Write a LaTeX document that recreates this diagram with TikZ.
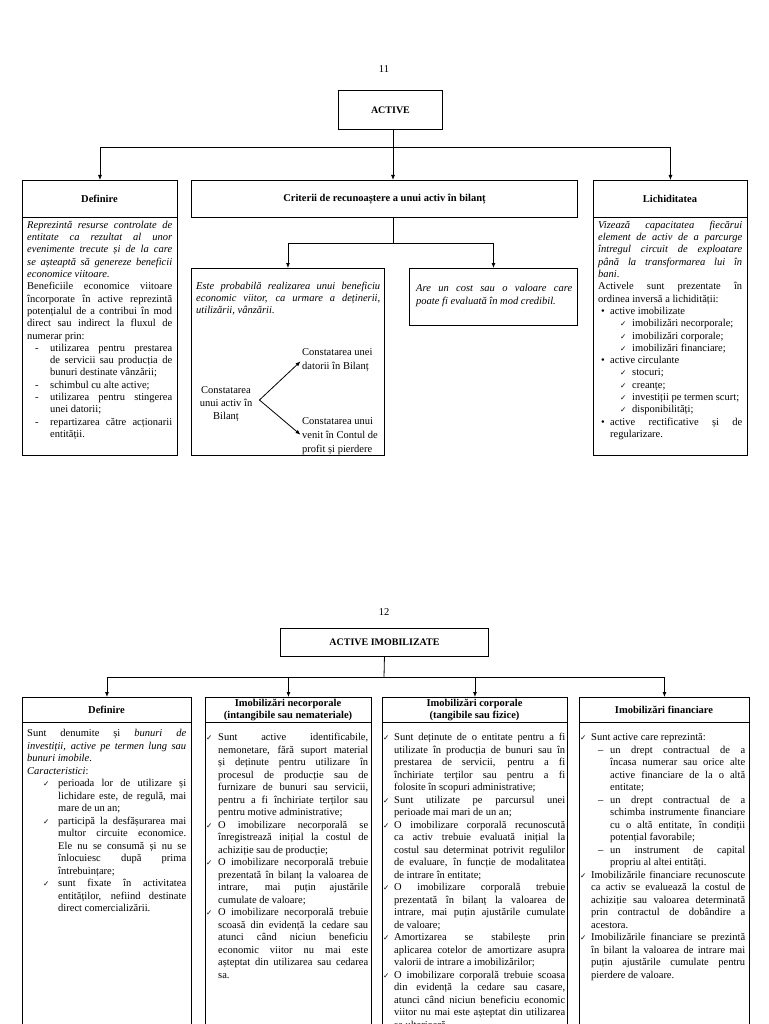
\documentclass[tikz,border=0pt]{standalone}
\usepackage{fontspec}
\setmainfont{Liberation Serif}
\newfontfamily\symf{DejaVu Sans}
\usetikzlibrary{arrows.meta}
\tolerance=10000
\hbadness=10000
\hfuzz=20pt
\newcommand\fsT{\fontsize{10.5}{12.3}\selectfont}
\newcommand\fsB{\fontsize{10.5}{12.5}\selectfont}
\newcommand\ckm{{\symf\fontsize{7.5}{7.5}\selectfont ✓}}
\newcommand\itm[4]{\par\hangindent=#1\hangafter=0\noindent\llap{\makebox[#2][l]{#3}}\strut#4}
\tikzset{
  bx/.style n args={2}{draw, line width=0.9pt, anchor=north west, inner sep=0pt, minimum width=#1, minimum height=#2},
  body/.style={anchor=north west, inner sep=0pt, text width=#1, align=justify},
  hd/.style={font=\fsB\bfseries, align=center, inner sep=0pt},
  arr/.style={-{Latex[length=5pt,width=4pt]}, line width=0.8pt},
  ln/.style={line width=0.8pt}
}
\begin{document}
\begin{tikzpicture}[x=1pt,y=-1pt]
\useasboundingbox (0,0) rectangle (768,1024);
\clip (0,0) rectangle (768,1024);
\fill[white] (0,0) rectangle (768,1024);

% ---------------- page 11 ----------------
\node[font=\fsB, inner sep=0pt] (p11) at (384,69) {11};
\node[bx={104pt}{39pt}, font=\fontsize{10}{12}\selectfont\bfseries] (act) at (338,90) {ACTIVE};

\node[bx={155pt}{275pt}] (defA) at (22,180) {};
\draw[ln] ([yshift=-37pt]defA.north west) -- ([yshift=-37pt]defA.north east);
\node[hd] (defAh) at (99.5,198.5) {Definire};

\node[bx={386pt}{37pt}, font=\fsB\bfseries] (crit) at (191,180) {Criterii de recunoaștere a unui activ în bilanț};

\node[bx={154pt}{275pt}] (lichA) at (593,180) {};
\draw[ln] ([yshift=-37pt]lichA.north west) -- ([yshift=-37pt]lichA.north east);
\node[hd] (lichAh) at (670,198.5) {Lichiditatea};

\node[bx={193pt}{187pt}] (inL) at (191,268) {};
\node[bx={168pt}{57pt}] (inR) at (409,268) {};

\coordinate (hubA) at (393,147);
\draw[ln] (act.south -| hubA) -- (hubA);
\draw[arr] (hubA) -- (hubA |- crit.north);
\draw[ln] (hubA -| defA.north) -- (hubA -| lichA.north);
\draw[arr] (hubA -| defA.north) -- (defA.north);
\draw[arr] (hubA -| lichA.north) -- (lichA.north);

\coordinate (hubB) at (393,243);
\draw[ln] (crit.south -| hubB) -- (hubB);
\draw[ln] (hubB -| inL.north) -- (hubB -| inR.north);
\draw[arr] (hubB -| inL.north) -- (inL.north);
\draw[arr] (hubB -| inR.north) -- (inR.north);

\node[body=145pt, font=\fsT] (defAt) at (27,219.5) {\strut\textit{Reprezintă resurse controlate de\linebreak entitate ca rezultat al unor\linebreak evenimente trecute și de la care\linebreak se așteaptă să genereze beneficii\linebreak economice viitoare}.\par
Beneficiile economice viitoare\linebreak încorporate în active reprezintă\linebreak potențialul de a contribui în mod\linebreak direct sau indirect la fluxul de\linebreak numerar prin:
\itm{23pt}{15pt}{-}{utilizarea pentru prestarea\linebreak de servicii sau producția de\linebreak bunuri destinate vânzării;}
\itm{23pt}{15pt}{-}{schimbul cu alte active;}
\itm{23pt}{15pt}{-}{utilizarea pentru stingerea\linebreak unei datorii;}
\itm{23pt}{15pt}{-}{repartizarea către acționarii\linebreak entității.}\par};

\node[body=144pt, font=\fsT] (lichAt) at (598,219.5) {\strut\textit{Vizează capacitatea fiecărui\linebreak element de activ de a parcurge\linebreak întregul circuit de exploatare\linebreak până la transformarea lui în\linebreak bani}.\par
Activele sunt prezentate în\linebreak ordinea inversă a lichidității:
\itm{12pt}{9pt}{•}{active imobilizate}
\itm{34pt}{12pt}{\ckm}{imobilizări necorporale;}
\itm{34pt}{12pt}{\ckm}{imobilizări corporale;}
\itm{34pt}{12pt}{\ckm}{imobilizări financiare;}
\itm{12pt}{9pt}{•}{active circulante}
\itm{34pt}{12pt}{\ckm}{stocuri;}
\itm{34pt}{12pt}{\ckm}{creanțe;}
\itm{34pt}{12pt}{\ckm}{investiții pe termen scurt;}
\itm{34pt}{12pt}{\ckm}{disponibilități;}
\itm{12pt}{9pt}{•}{active rectificative și de\linebreak regularizare.}\par};

\node[body=184pt, font=\fsT\itshape] (inLt) at (196,280.5) {\strut Este probabilă realizarea unui beneficiu\linebreak economic viitor, ca urmare a deținerii,\linebreak utilizării, vânzării.\par};
\node[body=156pt, font=\fsT\itshape] (inRt) at (416,283) {\strut Are un cost sau o valoare care\linebreak poate fi evaluată în mod credibil.\par};

\node[align=center, font=\fontsize{10.5}{13}\selectfont, inner sep=0pt] (cA) at (226,404) {Constatarea\\unui activ în\\Bilanț};
\node[align=left, font=\fontsize{10.5}{13.5}\selectfont, inner sep=0pt, anchor=west] (cD) at (302,360) {Constatarea unei\\datorii în Bilanț};
\node[align=left, font=\fontsize{10.5}{14}\selectfont, inner sep=0pt, anchor=west] (cV) at (302,436) {Constatarea unui\\venit în Contul de\\profit și pierdere};
\coordinate (cv) at ([xshift=7pt,yshift=4pt]cA.east);
\draw[arr, shorten >=2pt] (cv) -- (cD.west);
\draw[arr, shorten >=2pt] (cv) -- (cV.west);

% ---------------- page 12 ----------------
\node[font=\fsB, inner sep=0pt] (p12) at (384,612) {12};
\node[bx={208pt}{28pt}, font=\fontsize{10}{12}\selectfont\bfseries] (aimob) at (280,628) {ACTIVE IMOBILIZATE};

\node[bx={169pt}{343pt}] (defB) at (22,697) {};
\node[bx={166pt}{343pt}] (necB) at (205,697) {};
\node[bx={185pt}{343pt}] (corB) at (382,697) {};
\node[bx={170pt}{343pt}] (finB) at (579,697) {};
\foreach \b in {defB,necB,corB,finB}
  \draw[ln] ([yshift=-25pt]\b.north west) -- ([yshift=-25pt]\b.north east);

\coordinate (hubC) at (384,677);
\draw[ln] (aimob.south) -- (hubC);
\draw[ln] (hubC -| defB.north) -- (hubC -| finB.north);
\draw[arr] (hubC -| defB.north) -- (defB.north);
\draw[arr] (hubC -| necB.north) -- (necB.north);
\draw[arr] (hubC -| corB.north) -- (corB.north);
\draw[arr] (hubC -| finB.north) -- (finB.north);

\node[hd] (defBh) at (106.5,709.5) {Definire};
\node[hd, font=\fontsize{10.5}{12}\selectfont\bfseries] (necBh) at (288,710) {Imobilizări necorporale\\(intangibile sau nemateriale)};
\node[hd, font=\fontsize{10.5}{12}\selectfont\bfseries] (corBh) at (474.5,710) {Imobilizări corporale\\(tangibile sau fizice)};
\node[hd] (finBh) at (664,709.5) {Imobilizări financiare};

\node[body=159pt, font=\fsB] (defBt) at (27,728) {\strut Sunt denumite și \textit{bunuri de\linebreak investiții, active pe termen lung sau\linebreak bunuri imobile}.\par
\textit{Caracteristici}:
\itm{31pt}{15pt}{\ckm}{perioada lor de utilizare și\linebreak lichidare este, de regulă, mai\linebreak mare de un an;}
\itm{31pt}{15pt}{\ckm}{participă la desfășurarea mai\linebreak multor circuite economice.\linebreak Ele nu se consumă și nu se\linebreak înlocuiesc după prima\linebreak întrebuințare;}
\itm{31pt}{15pt}{\ckm}{sunt fixate în activitatea\linebreak entităților, nefiind destinate\linebreak direct comercializării.}\par};

\node[body=162pt, font=\fsB] (necBt) at (206,728) {%
\itm{12pt}{12pt}{\ckm}{Sunt active identificabile,\linebreak nemonetare, fără suport material\linebreak și deținute pentru utilizare în\linebreak procesul de producție sau de\linebreak furnizare de bunuri sau servicii,\linebreak pentru a fi închiriate terților sau\linebreak pentru motive administrative;}
\itm{12pt}{12pt}{\ckm}{O imobilizare necorporală se\linebreak înregistrează inițial la costul de\linebreak achiziție sau de producție;}
\itm{12pt}{12pt}{\ckm}{O imobilizare necorporală trebuie\linebreak prezentată în bilanț la valoarea de\linebreak intrare, mai puțin ajustările\linebreak cumulate de valoare;}
\itm{12pt}{12pt}{\ckm}{O imobilizare necorporală trebuie\linebreak scoasă din evidență la cedare sau\linebreak atunci când niciun beneficiu\linebreak economic viitor nu mai este\linebreak așteptat din utilizarea sau cedarea\linebreak sa.}\par};

\node[body=182pt, font=\fsB] (corBt) at (383,728) {%
\itm{11pt}{11pt}{\ckm}{Sunt deținute de o entitate pentru a fi\linebreak utilizate în producția de bunuri sau în\linebreak prestarea de servicii, pentru a fi\linebreak închiriate terților sau pentru a fi\linebreak folosite în scopuri administrative;}
\itm{11pt}{11pt}{\ckm}{Sunt utilizate pe parcursul unei\linebreak perioade mai mari de un an;}
\itm{11pt}{11pt}{\ckm}{O imobilizare corporală recunoscută\linebreak ca activ trebuie evaluată inițial la\linebreak costul sau determinat potrivit regulilor\linebreak de evaluare, în funcție de modalitatea\linebreak de intrare în entitate;}
\itm{11pt}{11pt}{\ckm}{O imobilizare corporală trebuie\linebreak prezentată în bilanț la valoarea de\linebreak intrare, mai puțin ajustările cumulate\linebreak de valoare;}
\itm{11pt}{11pt}{\ckm}{Amortizarea se stabilește prin\linebreak aplicarea cotelor de amortizare asupra\linebreak valorii de intrare a imobilizărilor;}
\itm{11pt}{11pt}{\ckm}{O imobilizare corporală trebuie scoasa\linebreak din evidență la cedare sau casare,\linebreak atunci când niciun beneficiu economic\linebreak viitor nu mai este așteptat din utilizarea\linebreak sa ulterioară.}\par};

\node[body=165pt, font=\fsB] (finBt) at (580,728) {%
\itm{11pt}{11pt}{\ckm}{Sunt active care reprezintă:}
\itm{30pt}{12pt}{–}{un drept contractual de a\linebreak încasa numerar sau orice alte\linebreak active financiare de la o altă\linebreak entitate;}
\itm{30pt}{12pt}{–}{un drept contractual de a\linebreak schimba instrumente financiare\linebreak cu o altă entitate, în condiții\linebreak potențial favorabile;}
\itm{30pt}{12pt}{–}{un instrument de capital\linebreak propriu al altei entități.}
\itm{11pt}{11pt}{\ckm}{Imobilizările financiare recunoscute\linebreak ca activ se evaluează la costul de\linebreak achiziție sau valoarea determinată\linebreak prin contractul de dobândire a\linebreak acestora.}
\itm{11pt}{11pt}{\ckm}{Imobilizările financiare se prezintă\linebreak în bilant la valoarea de intrare mai\linebreak puțin ajustările cumulate pentru\linebreak pierdere de valoare.}\par};
\end{tikzpicture}
\end{document}
